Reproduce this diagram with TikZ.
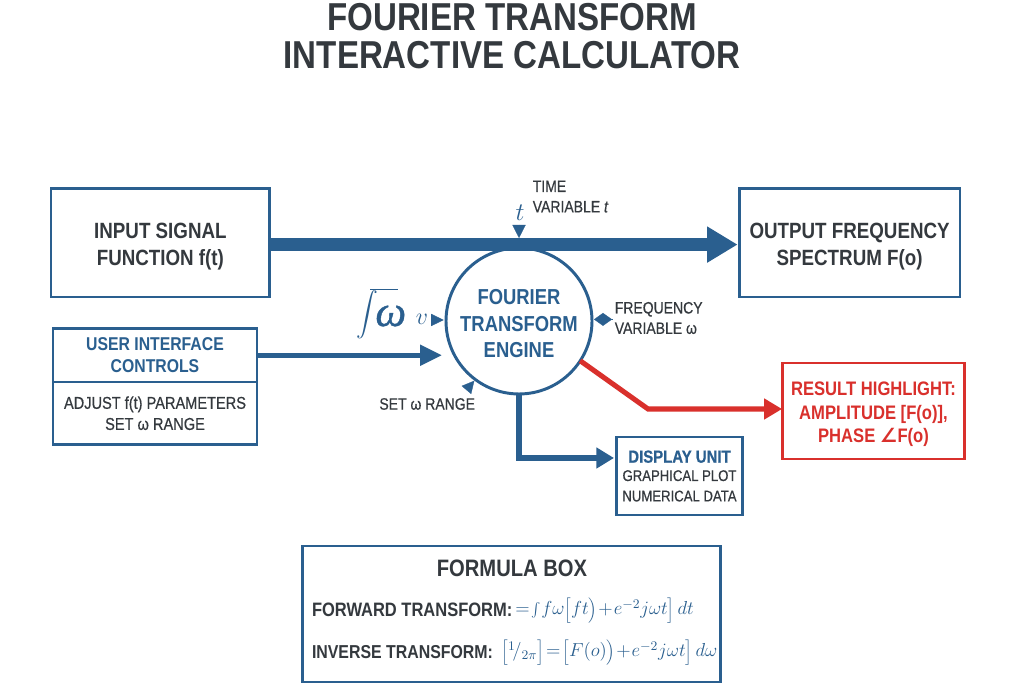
\documentclass[tikz,border=0pt]{standalone}
\usepackage{fix-cm}
\usepackage{fontspec}
\setmainfont{Liberation Sans}[FakeStretch=0.85]
\newfontfamily\medfont{Liberation Sans}[FakeStretch=0.85,FakeBold=0.5]
\newfontfamily\symfont{DejaVu Sans}
\newfontfamily\omegafont{Liberation Serif}[FakeBold=0.8]
\usetikzlibrary{arrows.meta}
\definecolor{blueline}{HTML}{2A5F8F}
\definecolor{redline}{HTML}{D9302C}
\definecolor{darktext}{HTML}{34393E}

\begin{document}
\begin{tikzpicture}[
		every node/.style={
			rectangle,
			minimum height=0cm,
			minimum width=0cm,
			inner sep=0pt,
			outer sep=0pt,
			text=darktext,
			align=center
		},
		box/.style={
			draw=blueline,
			fill=white,
			line width=2.1pt
		},
		label/.style={
			font=\fontsize{11.7}{14.5}\selectfont\medfont
		},
		boxtext/.style={
			font=\fontsize{15.7}{19.5}\selectfont\bfseries
		},
		bluearrow/.style={
			draw=blueline,
			line width=3.6pt,
			-{Triangle[length=0.55cm,width=0.5cm]}
		},
		stub/.style={
			draw=blueline,
			fill=blueline,
			line width=0.2pt
		}]

		\fill[white] (0,0) rectangle (25.6,17.125);
		\useasboundingbox (0,0) rectangle (25.6,17.125);

		%title
		\node[font=\fontsize{27.7}{27.5}\selectfont\bfseries] at (12.8,16.22) (title) {FOURIER TRANSFORM\\INTERACTIVE CALCULATOR};

		%boxes
		\node[box,boxtext,minimum width=5.47cm,minimum height=2.72cm] at (4.01,11.06) (input) {\rule{0pt}{16.3pt}INPUT SIGNAL\\FUNCTION f(t)};
		\node[box,boxtext,minimum width=5.52cm,minimum height=2.72cm] at (21.24,11.06) (output) {\rule{0pt}{16.3pt}OUTPUT FREQUENCY\\SPECTRUM F(o)};

		\node[box,font=\fontsize{13.2}{16}\selectfont\bfseries,text=blueline,minimum width=5.1cm,minimum height=1.3375cm] at (3.875,8.244) (uihead) {USER INTERFACE\\CONTROLS};
		\node[box,font=\fontsize{12.2}{15}\selectfont\medfont,minimum width=5.1cm,minimum height=1.5625cm] at (3.875,6.794) (uibody) {ADJUST f(t) PARAMETERS\\SET \textmd{ω} RANGE};

		\node[box,font=\fontsize{15.4}{19}\selectfont\bfseries,text=blueline,circle,minimum size=3.65cm] at (12.975,9.1) (engine) {\rule{0pt}{14.7pt}FOURIER\\TRANSFORM\\ENGINE};

		\node[box,draw=redline,font=\fontsize{13.9}{17}\selectfont\bfseries,text=redline,minimum width=4.57cm,minimum height=2.4cm] at (21.8375,6.85) (result) {\rule{0pt}{14.3pt}RESULT HIGHLIGHT:\\AMPLITUDE [F(o)],\\PHASE {\symfont ∠}F(o)};

		\node[box,label,minimum width=3.17cm,minimum height=1.95cm] at (16.9875,5.225) (display) {{\fontsize{12.5}{16}\selectfont\bfseries\color{blueline}DISPLAY UNIT}\\[-1.5pt]{\fontsize{11}{13.5}\selectfont GRAPHICAL PLOT}\\{\fontsize{11}{13.5}\selectfont NUMERICAL DATA}};

		\node[box,minimum width=10.47cm,minimum height=3.4cm] at (12.7875,1.775) (formula) {};
		\node[font=\fontsize{16.9}{18}\selectfont\bfseries] at (12.8,2.92) (formulatitle) {FORMULA BOX};
		\node[anchor=west,font=\fontsize{13.8}{16}\selectfont\bfseries] at (7.8,1.87) (forward) {FORWARD TRANSFORM:};
		\node[anchor=west,text=blueline,font=\fontsize{13.4}{16}\selectfont] at (forward.east) (forwardmath) {\,$=\!\int\! f\omega\Big[ft\Big)\!+\!e^{-2} j\omega t\Big]\,dt$};
		\node[anchor=west,font=\fontsize{13.3}{16}\selectfont\bfseries] at (7.8,0.82) (inverse) {INVERSE TRANSFORM:};
		\node[anchor=west,text=blueline,font=\fontsize{13.4}{16}\selectfont] at (inverse.east) (inversemath) {\;\,$\Big[{}^1\!/_{2\pi}\Big]\!=\!\Big[F(o)\Big)\!+\!e^{-2} j\omega t\Big]\,d\omega$};

		%labels
		\node[label,align=left,anchor=west] at (13.32,12.21) (timelabel) {TIME\\VARIABLE \textit{t}};
		\node[text=blueline,font=\fontsize{18}{20}\selectfont] at (13.0,11.8) (tsym) {$t$};
		\node[text=blueline,anchor=west] at (8.9,9.25) (intsym) {\scalebox{1.55}{$\displaystyle\int$}};
		\node[text=blueline,font=\fontsize{31}{32}\selectfont\omegafont\itshape] at (9.77,9.225) (omegasym) {ω};
		\node[text=blueline,font=\fontsize{17}{18}\selectfont] at (10.55,9.14) (vsym) {$v$};
		\node[label,align=left,anchor=west] at (15.37,9.175) (freqlabel) {FREQUENCY\\VARIABLE \textmd{ω}};
		\node[label] at (10.68,7.025) (rangelabel) {SET \textmd{ω} RANGE};

		%small arrows
		\coordinate (tfoot) at (12.975,11.5);
		\coordinate (ttip) at (12.975,11.175);
		\coordinate (vfoot) at (10.775,9.125);
		\coordinate (vtip) at (11.09,9.125);
		\coordinate (setfoot) at (11.66,7.375);
		\coordinate (settip) at (11.858,7.607);
		\coordinate (freqfoot) at (15.3,9.14);
		\coordinate (freqtip) at (14.85,9.14);
		\draw[stub,-{Triangle[length=0.325cm,width=0.33cm]}] (tfoot) -- (ttip);
		\draw[stub,-{Triangle[length=0.315cm,width=0.31cm]}] (vfoot) -- (vtip);
		\draw[stub,-{Triangle[length=0.305cm,width=0.31cm]}] (setfoot) -- (settip);
		\draw[stub,-{Diamond[length=0.45cm,width=0.32cm]}] (freqfoot) -- (freqtip);

		%integral top stroke
		\coordinate (intstart) at (9.25,9.88);
		\coordinate (intend) at (9.95,9.88);
		\draw[draw=blueline,line width=0.9pt] (intstart) -- (intend);

		%connectors
		\draw[draw=blueline,line width=9.4pt,-{Triangle[length=0.76cm,width=0.85cm]}] (input.east) ++(0,-0.05) coordinate (busstart) -- ([xshift=-0.04cm]busstart -| output.west);
		\draw[bluearrow] (uihead.east) -- ([xshift=-0.1cm]uihead.east -| engine.west);

		\coordinate (dispin) at (15.35,5.675);
		\draw[bluearrow,-{Triangle[length=0.44cm,width=0.5cm]}] (engine.south) |- (dispin);

		\coordinate (redbend) at (16.2,6.9);
		\draw[draw=redline,line width=3.6pt,-{Triangle[length=0.45cm,width=0.5cm]}] (engine.-33) -- (redbend) -- (redbend -| result.west);

	\end{tikzpicture}
\end{document}
